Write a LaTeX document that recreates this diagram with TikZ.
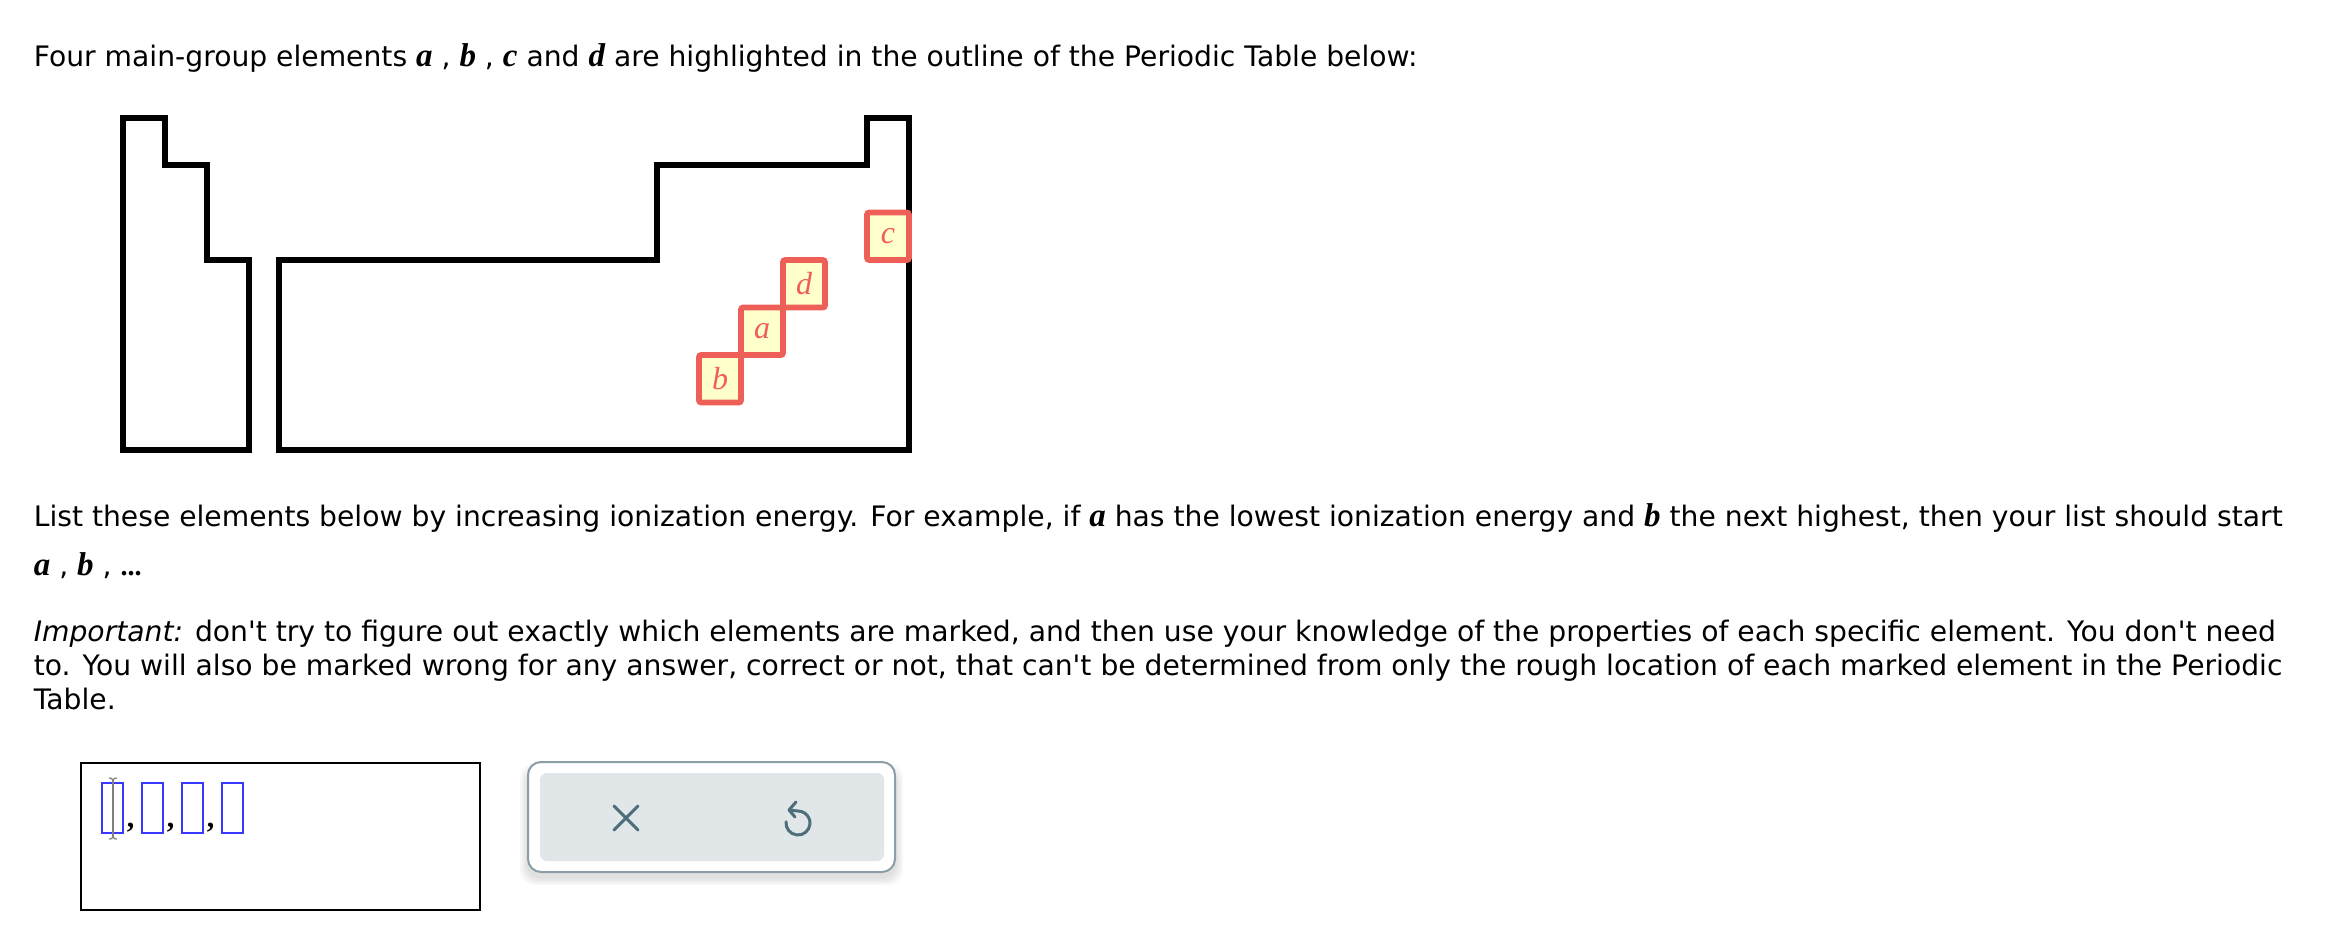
\documentclass[tikz,border=0pt]{standalone}
\usepackage{fontspec}
\setmainfont{DejaVu Sans}[Ligatures=TeXOff]
\newfontfamily\timesfont{Liberation Serif}
\usetikzlibrary{positioning}

\definecolor{elemred}{HTML}{EE5F57}
\definecolor{elemfill}{HTML}{FFFFCC}
\definecolor{boxblue}{HTML}{3838FF}
\definecolor{btnborder}{HTML}{8A9EA8}
\definecolor{btnfill}{HTML}{E1E6E9}
\definecolor{btnicon}{HTML}{4D6E7A}

\newcommand{\elemtx}[1]{{\timesfont\bfseries\itshape\fontsize{16.5}{18}\selectfont #1}}

\begin{document}
\begin{tikzpicture}[x=0.5pt, y=-0.5pt, thick,
  elem node/.style={draw=elemred, fill=elemfill, line width=2.8pt, rounded corners=1pt, minimum width=21pt, minimum height=23.75pt, inner sep=0pt, outer sep=0pt, text=elemred, font=\timesfont\itshape\fontsize{16}{18}\selectfont},
  text node/.style={anchor=base west, inner sep=0pt, font=\fontsize{14.1}{16}\selectfont},
  blank node/.style={draw=boxblue, line width=1pt, minimum width=10.5pt, minimum height=25pt, inner sep=0pt},
  icon line/.style={draw=btnicon, line width=1.5pt, line cap=round, line join=round}]

    \useasboundingbox (0,0) rectangle (2350,942);

    \node[text node] (intro) at (33,66) {Four main-group elements \elemtx{a} , \elemtx{b} , \elemtx{c} and \elemtx{d} are highlighted in the outline of the Periodic Table below:};

    % outline of the table
    \draw[line width=3pt] (123,450) -- (123,117.5) -- (165,117.5) -- (165,165) -- (207,165) -- (207,260) -- (249,260) -- (249,450) -- cycle;
    \draw[line width=3pt] (279,450) -- (279,260) -- (657,260) -- (657,165) -- (867,165) -- (867,117.5) -- (909,117.5) -- (909,450) -- cycle;

    \node[elem node] (b) at (720,378.75) {b};
    \node[elem node] (a) [above right=0pt and 0pt of b] {a};
    \node[elem node] (d) [above right=0pt and 0pt of a] {d};
    \node[elem node] (c) at (888,236.25) {c};

    \node[text node] (task1) at (33,526) {List these elements below by increasing ionization energy. For example, if \elemtx{a} has the lowest ionization energy and \elemtx{b} the next highest, then your list should start};
    \node[text node] (task2) at (33,575) {\elemtx{a} , \elemtx{b} , {\timesfont\bfseries ...}};

    \node[text node] (note1) at (33,641) {\textit{Important:} don't try to figure out exactly which elements are marked, and then use your knowledge of the properties of each specific element. You don't need};
    \node[text node] (note2) at (33,675) {to. You will also be marked wrong for any answer, correct or not, that can't be determined from only the rough location of each marked element in the Periodic};
    \node[text node] (note3) at (33,709) {Table.};

    % answer box
    \node[draw, line width=1.25pt, minimum width=199.5pt, minimum height=73.5pt] (answer) at (280.5,836.5) {};
    \foreach \i in {1,...,4}
        \node[blank node] (blank\i) at ({72.5+40*\i},808) {};
    \foreach \i in {1,2,3}
        \node[anchor=base west, inner sep=0pt, xshift=1pt, yshift=3.5pt] (comma\i) at (blank\i.south east) {\timesfont\bfseries\fontsize{15}{16}\selectfont ,};
    \draw[gray, line width=0.8pt] (113,781) -- (113,836);
    \draw[gray, line width=0.6pt] (109,778) .. controls (112,778) .. (113,781) .. controls (114,778) .. (117,778)
        (109,839) .. controls (112,839) .. (113,836) .. controls (114,839) .. (117,839);

    % buttons
    \foreach \s in {2,4,6,8}
        \fill[black, opacity=0.03, rounded corners=8pt] ({528-\s},{766-\s+5}) rectangle ({895+\s},{872+\s+5});
    \node[draw=btnborder, line width=1pt, fill=white, rounded corners=6.5pt, minimum width=183.5pt, minimum height=55pt] (panel) at (711.5,817) {};
    \node[fill=btnfill, rounded corners=3.5pt, minimum width=172pt, minimum height=44pt] (btnbar) at (712,817) {};

    \coordinate (clear) at (626,818);
    \coordinate (undo) at (798,823);
    \draw[icon line] (clear) ++(-12,-12) -- ++(24,24) (clear) ++(12,-12) -- ++(-24,24);
    \draw[icon line] (undo) ++(186:12) arc[start angle=186, end angle=-90, radius=12] -- ++(-9,-1);
    \draw[icon line] (796,802) -- (789,810) -- (795,817);
\end{tikzpicture}
\end{document}
